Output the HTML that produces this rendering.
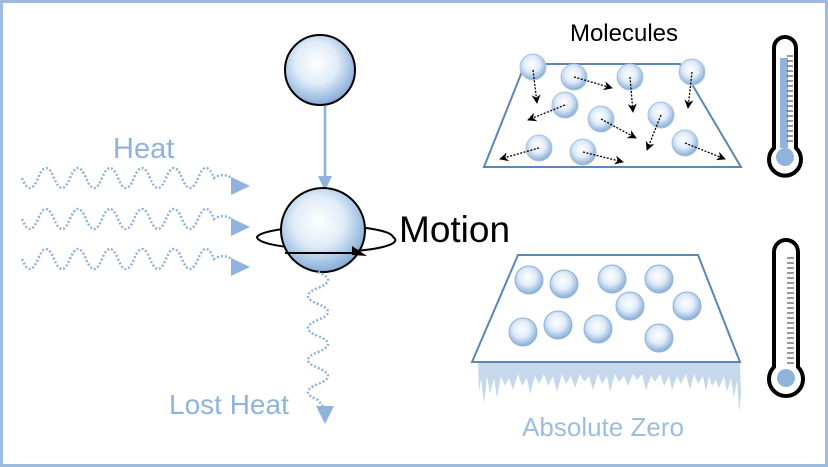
<!DOCTYPE html>
<html><head><meta charset="utf-8"><style>
html,body{margin:0;padding:0;background:#fff;}
svg{display:block;}
text{font-family:"Liberation Sans",sans-serif;}
</style></head><body>
<svg width="828" height="467" viewBox="0 0 828 467" xmlns="http://www.w3.org/2000/svg">
<defs>
<radialGradient id="g" cx="45%" cy="40%" r="60%">
<stop offset="0" stop-color="#ffffff"/><stop offset="0.5" stop-color="#e0ecf8"/><stop offset="1" stop-color="#86acd8"/>
</radialGradient>
<marker id="ah" viewBox="0 0 10 10" refX="9" refY="5" markerWidth="7" markerHeight="7" orient="auto"><path d="M0,0 L10,5 L0,10 L3,5 z" fill="#000"/></marker>
</defs>
<rect x="1.5" y="1.5" width="825" height="464" fill="#fff" stroke="#9bbcdc" stroke-width="3"/>

<!-- top ball and arrow -->
<circle cx="320" cy="70" r="35" fill="url(#g)" stroke="#000" stroke-width="2"/>
<line x1="325" y1="106" x2="325" y2="178" stroke="#8fb3dd" stroke-width="2.5"/>
<polygon points="318,176 332,176 325,191" fill="#8fb3dd"/>

<!-- heat waves -->
<text x="113" y="158" font-size="29" fill="#8fb3dd">Heat</text>
<g fill="none" stroke="#8fb3dd" stroke-width="2.5" stroke-dasharray="2 2">
<path d="M22 178 q8 20 16 0 t16 0 t16 0 t16 0 t16 0 t16 0 t16 0 t16 0 t16 0 t16 0 t16 0 t16 0 q12 -8 24 6"/>
<path d="M22 219 q8 20 16 0 t16 0 t16 0 t16 0 t16 0 t16 0 t16 0 t16 0 t16 0 t16 0 t16 0 t16 0 q12 -8 24 6"/>
<path d="M22 259 q8 20 16 0 t16 0 t16 0 t16 0 t16 0 t16 0 t16 0 t16 0 t16 0 t16 0 t16 0 t16 0 q12 -8 24 6"/>
</g>
<g fill="#8fb3dd">
<polygon points="231,177 250,186 231,195"/>
<polygon points="231,218 250,227 231,236"/>
<polygon points="231,258 250,267 231,276"/>
</g>

<!-- middle ball with orbit -->
<path d="M283 229 A69 12 0 0 0 257 237 A69 12 0 0 0 325 249" fill="none" stroke="#000" stroke-width="2"/>
<circle cx="323" cy="230" r="42" fill="url(#g)" stroke="#000" stroke-width="2"/>
<path d="M285 253 L355 253" stroke="#000" stroke-width="2"/>
<path d="M366 228 A69 12 0 0 1 393 237 A69 12 0 0 1 355 251" fill="none" stroke="#000" stroke-width="2"/>
<polygon points="352,246 367,256 352,255" fill="#000"/>
<text x="399" y="242" font-size="37" fill="#000">Motion</text>

<!-- lost heat -->
<path d="M318 272 q20 8 0 16 t0 16 t0 16 t0 16 t0 16 t0 16 t0 16 t0 16 l5 6" fill="none" stroke="#8fb3dd" stroke-width="2.5" stroke-dasharray="2 2"/>
<polygon points="316,406 334,406 325,424" fill="#8fb3dd"/>
<text x="169" y="414" font-size="28" fill="#8fb3dd">Lost Heat</text>

<!-- molecules -->
<text x="624" y="41" font-size="24" fill="#000" text-anchor="middle">Molecules</text>
<polygon points="525,64 680,64 741,167 484,167" fill="#fff" stroke="#5b86b5" stroke-width="2"/>
<g fill="url(#g)" stroke="#a8c4e2" stroke-width="1">
<circle cx="533" cy="67" r="13"/><circle cx="574" cy="77" r="13"/><circle cx="630" cy="77" r="13"/><circle cx="692" cy="72" r="13"/>
<circle cx="565" cy="105" r="13"/><circle cx="601" cy="119" r="13"/><circle cx="661" cy="115" r="13"/>
<circle cx="539" cy="148" r="13"/><circle cx="583" cy="152" r="13"/><circle cx="685" cy="143" r="13"/>
</g>
<g stroke="#000" stroke-width="1.3" stroke-dasharray="2 1.5" marker-end="url(#ah)">
<line x1="533" y1="70" x2="537" y2="103"/><line x1="574" y1="77" x2="612" y2="88"/>
<line x1="630" y1="77" x2="633" y2="112"/><line x1="692" y1="72" x2="688" y2="108"/>
<line x1="565" y1="105" x2="528" y2="120"/><line x1="601" y1="119" x2="636" y2="138"/>
<line x1="661" y1="115" x2="647" y2="150"/><line x1="539" y1="148" x2="500" y2="159"/>
<line x1="583" y1="152" x2="623" y2="162"/><line x1="685" y1="143" x2="725" y2="159"/>
</g>

<!-- top thermometer -->
<path d="M774 148 V48 a11 11 0 0 1 22 0 V148 a16 16 0 1 1 -22 0 z" fill="#fff" stroke="#000" stroke-width="4"/>
<rect x="780" y="58" width="8" height="90" fill="#8fb3dd"/>
<circle cx="785" cy="157" r="9" fill="#8fb3dd"/>
<g stroke="#333" stroke-width="1">
<path d="M787 56h6M787 61h6M787 66h6M787 71h6M787 76h6M787 81h6M787 86h6M787 91h6M787 96h6M787 101h6M787 106h6M787 111h6M787 116h6M787 121h6M787 126h6M787 131h6M787 136h6M787 141h6"/>
</g>

<!-- absolute zero icicles -->
<polygon points="478,362 740,362 741,395 739,412 737,380 734,398 731,378 727,392 724,376 719,388 716,380 712,386 709,376 706,392 703,376 698,384 694,374 690,390 686,374 681,384 677,376 672,390 669,376 664,386 660,374 655,382 651,376 646,390 642,374 637,380 633,374 628,386 624,376 619,382 615,374 610,392 607,376 602,384 598,374 593,390 589,376 584,382 580,374 575,388 571,376 566,384 562,374 557,392 553,376 548,386 544,374 539,384 535,376 530,394 527,378 522,386 518,374 513,390 509,378 505,386 501,376 497,398 494,378 490,394 487,376 484,404 481,378 479,392" fill="#c5d8ec"/>
<polygon points="518,255 698,255 740,362 472,362" fill="#fff" stroke="#5b86b5" stroke-width="2"/>
<g fill="url(#g)" stroke="#8fb3dd" stroke-width="1">
<circle cx="529" cy="280" r="14"/><circle cx="564" cy="284" r="14"/><circle cx="612" cy="279" r="14"/><circle cx="659" cy="279" r="14"/>
<circle cx="630" cy="306" r="14"/><circle cx="687" cy="306" r="14"/>
<circle cx="523" cy="332" r="14"/><circle cx="558" cy="325" r="14"/><circle cx="598" cy="329" r="14"/><circle cx="659" cy="338" r="14"/>
</g>
<text x="603" y="436" font-size="26" fill="#9dbde0" text-anchor="middle">Absolute Zero</text>

<!-- bottom thermometer -->
<path d="M774 367 V252 a12 12 0 0 1 24 0 V367 a17 17 0 1 1 -24 0 z" fill="#fff" stroke="#000" stroke-width="4"/>
<circle cx="786" cy="378" r="9" fill="#8fb3dd"/>
<g stroke="#333" stroke-width="1">
<path d="M787 258h7M787 263h7M787 268h7M787 273h7M787 278h7M787 283h7M787 288h7M787 293h7M787 298h7M787 303h7M787 308h7M787 313h7M787 318h7M787 323h7M787 328h7M787 333h7M787 338h7M787 343h7M787 348h7M787 353h7M787 358h7M787 363h7"/>
</g>
</svg>
</body></html>
